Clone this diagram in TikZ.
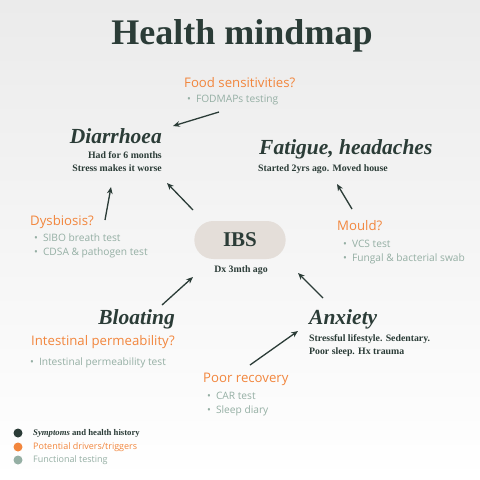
\documentclass[tikz,border=0pt]{standalone}
\usepackage{fontspec}
\setmainfont{Liberation Serif}
\setsansfont{Open Sans}
\usetikzlibrary{arrows.meta, positioning, shapes.misc}
\definecolor{darkA}{HTML}{2B3C37}
\definecolor{orangeA}{HTML}{F2863D}
\definecolor{sageA}{HTML}{95AFA4}
\definecolor{pillB}{HTML}{E4DED9}
\definecolor{bgA}{HTML}{EBEBEB}
\tikzset{
  symptom/.style={text=darkA, font=\bfseries\itshape\fontsize{21.5}{24}\selectfont, inner sep=0pt},
  history/.style={text=darkA, font=\bfseries\fontsize{9.8}{13}\selectfont, inner sep=0pt, align=left},
  driver/.style={text=orangeA, font=\sffamily\fontsize{13.2}{15}\selectfont, inner sep=0pt},
  tests/.style={text=sageA, font=\sffamily\fontsize{10.2}{14}\selectfont, inner sep=0pt, align=left},
  legend/.style={font=\fontsize{8.7}{10}\selectfont, inner sep=0pt, anchor=west},
  arrow/.style={-{Stealth[length=2.4mm, width=2mm]}, line width=1.3pt, color=darkA}
}
\newcommand{\bul}{\textbullet\hspace{5pt}}
\begin{document}
\begin{tikzpicture}[x=1pt, y=-1pt]
  % background
  \shade[top color=bgA, bottom color=white] (0,0) rectangle (480,480);
  \useasboundingbox (0,0) rectangle (480,480);

  \node[text=darkA, font=\bfseries\fontsize{36}{40}\selectfont] (title) at (242,36) {Health mindmap};

  % centre
  \node[rounded rectangle, fill=pillB, minimum width=98pt, minimum height=38pt,
    text=darkA, font=\bfseries\fontsize{21}{24}\selectfont] (ibs) at (240,240) {IBS};
  \node[history, anchor=center] (ibsnote) at (241,270) {Dx 3mth ago};

  % symptoms
  \node[symptom, anchor=east] (diarrhoea) at (162,136) {Diarrhoea};
  \node[history, anchor=north east, align=right] (diarnote) at (162,151) {Had for 6 months\\Stress makes it worse};
  \node[symptom, anchor=west] (fatigue) at (259,149) {Fatigue, headaches};
  \node[history, anchor=west] (fatnote) at (258,169) {Started 2yrs ago. Moved house};
  \node[symptom, anchor=east] (bloating) at (175,319) {Bloating};
  \node[symptom, anchor=west] (anxiety) at (309,319) {Anxiety};
  \node[history, anchor=north west] (anxnote) at (309,334) {Stressful lifestyle. Sedentary.\\Poor sleep. Hx trauma};

  % drivers and tests
  \node[driver, anchor=west] (food) at (184,83) {Food sensitivities?};
  \node[tests, anchor=north west] (foodtest) at (187,95) {\bul FODMAPs testing};
  \node[driver, anchor=west] (dysb) at (30,222) {Dysbiosis?};
  \node[tests, anchor=north west] (dysbtest) at (34,234) {\bul SIBO breath test\\\bul CDSA \& pathogen test};
  \node[driver, anchor=west] (mould) at (337,226) {Mould?};
  \node[tests, anchor=north west] (mouldtest) at (343,240) {\bul VCS test\\\bul Fungal \& bacterial swab};
  \node[driver, anchor=east] (perm) at (175,342) {Intestinal permeability?};
  \node[tests, anchor=north west] (permtest) at (30,358) {\bul Intestinal permeability test};
  \node[driver, anchor=west] (recov) at (203,379) {Poor recovery};
  \node[tests, anchor=north west] (recovtest) at (207,392) {\bul CAR test\\\bul Sleep diary};

  % arrow ends
  \coordinate (a1) at (219,112); \coordinate (b1) at (173,126);
  \coordinate (a2) at (105,220); \coordinate (b2) at (111,187);
  \coordinate (a3) at (193,210); \coordinate (b3) at (167,183);
  \coordinate (a4) at (352,209); \coordinate (b4) at (337,184);
  \coordinate (a5) at (162,305); \coordinate (b5) at (193,277);
  \coordinate (a6) at (323,298); \coordinate (b6) at (298,273);
  \coordinate (a7) at (250,365); \coordinate (b7) at (298,331);
  \foreach \i in {1,...,7} {
    \draw[arrow] (a\i) -- (b\i);
  }

  % legend
  \fill[darkA] (18,433) circle (4.5pt);
  \fill[orangeA] (18,447) circle (4.5pt);
  \fill[sageA] (18,460) circle (4.5pt);
  \node[legend, text=darkA] (leg1) at (33,433) {\textbf{\textit{Symptoms} and health history}};
  \node[legend, text=orangeA, font=\sffamily\fontsize{9}{10}\selectfont] (leg2) at (33,447) {Potential drivers/triggers};
  \node[legend, text=sageA, font=\sffamily\fontsize{9}{10}\selectfont] (leg3) at (33,460) {Functional testing};
\end{tikzpicture}
\end{document}
